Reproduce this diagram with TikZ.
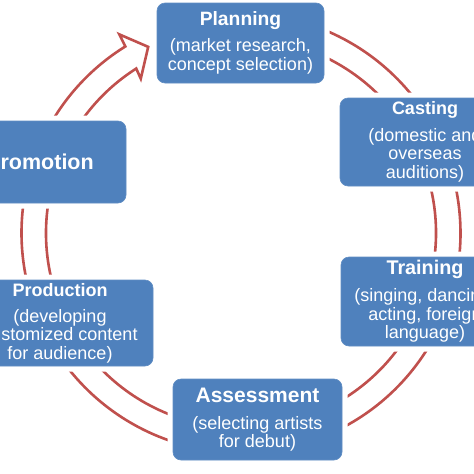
\documentclass[tikz,border=0pt]{standalone}
\usepackage{fontspec}
\setmainfont{Liberation Sans}
\usepackage{xcolor}
\usepackage{tikz}
\usetikzlibrary{positioning}

\definecolor{stageblue}{RGB}{79,129,189}
\definecolor{cyclered}{RGB}{192,80,77}

\newcommand{\stitle}[2]{{\fontsize{#1}{#1}\selectfont\bfseries #2}}

\begin{document}
\begin{tikzpicture}[
      x=1pt, y=-1pt,
      stage/.style={fill=stageblue, draw=stageblue!90!white, line width=0.6pt,
        rounded corners=8pt, text=white, align=center, inner sep=0pt,
        font=\fontsize{18}{18.5}\selectfont,
        preaction={draw=white, line width=11pt}},
      band/.style={draw=cyclered, line width=2.6pt, fill=white, line join=miter}
      ]

      \useasboundingbox (0,0) rectangle (474,474);
      \clip (0,0) rectangle (474,474);

      % circular arrow behind the stages
      \begin{scope}[shift={(241,233)}]
        \path[band] (-95:219.5) arc[start angle=-95, end angle=238.2, radius=219.5]
          -- (238.5:233) -- (243.5:208) -- (237:184) -- (237.5:195)
          arc[start angle=237.5, end angle=-95, radius=195] -- cycle;
      \end{scope}

      \node[stage, minimum width=167pt, minimum height=80pt] (plan) at (240.5,43)
        {\stitle{19.3}{Planning}\\[7.5pt](market research,\\concept selection)};
      \node[stage, minimum width=170pt, minimum height=88pt] (cast) at (425,142)
        {\stitle{18}{Casting}\\[8pt](domestic and\\overseas\\auditions)};
      \node[stage, minimum width=168pt, minimum height=89pt] (train) at (425,301.5)
        {\stitle{19.8}{Training}\\[8.5pt](singing, dancing,\\acting, foreign\\language)};
      \node[stage, minimum width=169pt, minimum height=81pt] (assess) at (257.5,419.5)
        {\stitle{21}{Assessment}\\[8.5pt](selecting artists\\for debut)};
      \node[stage, minimum width=186pt, minimum height=86pt] (prod) at (60,323)
        {\stitle{18}{Production}\\[7.5pt](developing\\customized content\\for audience)};
      \node[stage, minimum width=172pt, minimum height=82pt] (promo) at (40,162)
        {\stitle{21.5}{Promotion}};
    \end{tikzpicture}
\end{document}
